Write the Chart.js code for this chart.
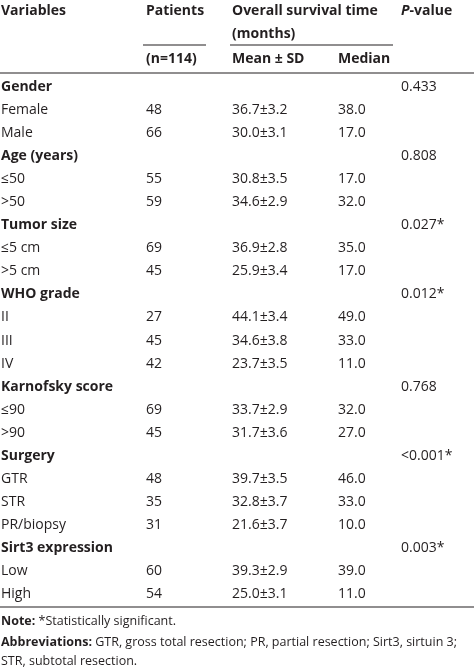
<!DOCTYPE html>
<html>
<head>
<meta charset="utf-8">
<script src="https://cdn.jsdelivr.net/npm/chart.js@4"></script>
<style>
  html, body { margin: 0; padding: 0; background: #fff; }
  #wrap { width: 474px; height: 667px; }
</style>
</head>
<body>
<div id="wrap"><canvas id="c"></canvas></div>
<script>
// table rows: [label, isGroupHeader]
const variables = [
  ["Gender", true], ["Female", false], ["Male", false],
  ["Age (years)", true], ["\u226450", false], [">50", false],
  ["Tumor size", true], ["\u22645 cm", false], [">5 cm", false],
  ["WHO grade", true], ["II", false], ["III", false], ["IV", false],
  ["Karnofsky score", true], ["\u226490", false], [">90", false],
  ["Surgery", true], ["GTR", false], ["STR", false], ["PR/biopsy", false],
  ["Sirt3 expression", true], ["Low", false], ["High", false]
];
const patients = ["", "48", "66", "", "55", "59", "", "69", "45", "", "27", "45", "42", "", "69", "45", "", "48", "35", "31", "", "60", "54"];
const means = ["", "36.7\u00b13.2", "30.0\u00b13.1", "", "30.8\u00b13.5", "34.6\u00b12.9", "", "36.9\u00b12.8", "25.9\u00b13.4", "", "44.1\u00b13.4", "34.6\u00b13.8", "23.7\u00b13.5", "", "33.7\u00b12.9", "31.7\u00b13.6", "", "39.7\u00b13.5", "32.8\u00b13.7", "21.6\u00b13.7", "", "39.3\u00b12.9", "25.0\u00b13.1"];
const medians = ["", "38.0", "17.0", "", "17.0", "32.0", "", "35.0", "17.0", "", "49.0", "33.0", "11.0", "", "32.0", "27.0", "", "46.0", "33.0", "10.0", "", "39.0", "11.0"];
const pvalues = ["0.433", "", "", "0.808", "", "", "0.027*", "", "", "0.012*", "", "", "", "0.768", "", "", "<0.001*", "", "", "", "0.003*", "", ""];

const FONT = "'Open Sans', Lato, sans-serif";
const COL = { v: 1, p: 146, m: 232, md: 338, pv: 401 };
const ROW0 = 87, ROWH = 23.05;

const tablePlugin = {
  id: "table",
  afterDraw(chart) {
    const { ctx } = chart;
    const x = v => chart.scales.x.getPixelForValue(v);
    const y = v => chart.scales.y.getPixelForValue(v);
    ctx.save();
    ctx.fillStyle = "#231f20";
    ctx.strokeStyle = "#231f20";
    ctx.textBaseline = "middle";
    const txt = (s, cx, cy, bold, italic) => {
      ctx.font = (italic ? "italic " : "") + (bold ? "bold " : "") + "14px " + FONT;
      ctx.fillText(s, x(cx), y(cy));
    };
    // header
    txt("Variables", COL.v, 11, true);
    txt("Patients", COL.p, 11, true);
    txt("Overall survival time", COL.m, 11, true);
    txt("(months)", COL.m, 34, true);
    ctx.font = "italic bold 14px " + FONT;
    ctx.fillText("P", x(COL.pv), y(11));
    const pw = ctx.measureText("P").width;
    ctx.font = "bold 14px " + FONT;
    ctx.fillText("-value", x(COL.pv) + pw, y(11));
    txt("(n=114)", COL.p, 59, true);
    txt("Mean \u00b1 SD", COL.m, 59, true);
    txt("Median", COL.md, 59, true);

    ctx.lineWidth = 1.2;
    const hline = (x1, x2, yy) => {
      ctx.beginPath(); ctx.moveTo(x(x1), y(yy)); ctx.lineTo(x(x2), y(yy)); ctx.stroke();
    };
    hline(143, 206, 45);
    hline(230, 393, 45);
    hline(0, 474, 73);

    variables.forEach(([label, grp], i) => {
      const yy = ROW0 + i * ROWH;
      txt(label, COL.v, yy, grp);
      txt(patients[i], COL.p, yy);
      txt(means[i], COL.m, yy);
      txt(medians[i], COL.md, yy);
      txt(pvalues[i], COL.pv, yy);
    });
    hline(0, 474, 607);

    // notes
    const note = (b, rest, yy) => {
      ctx.font = "bold 12.5px " + FONT;
      ctx.fillText(b, x(1), y(yy));
      const w = ctx.measureText(b).width;
      ctx.font = "12.5px " + FONT;
      ctx.fillText(rest, x(1) + w, y(yy));
    };
    note("Note: ", "*Statistically significant.", 621);
    note("Abbreviations: ", "GTR, gross total resection; PR, partial resection; Sirt3, sirtuin 3;", 642);
    note("", "STR, subtotal resection.", 661);
    ctx.restore();
  }
};

new Chart(document.getElementById("c"), {
  type: "scatter",
  data: { datasets: [{ data: [], pointRadius: 0 }] },
  options: {
    responsive: true,
    maintainAspectRatio: false,
    animation: false,
    layout: { padding: 0 },
    plugins: { legend: { display: false }, tooltip: { enabled: false } },
    scales: {
      x: { type: "linear", min: 0, max: 474, display: false },
      y: { type: "linear", min: 0, max: 667, reverse: true, display: false }
    }
  },
  plugins: [tablePlugin]
});
</script>
</body>
</html>
